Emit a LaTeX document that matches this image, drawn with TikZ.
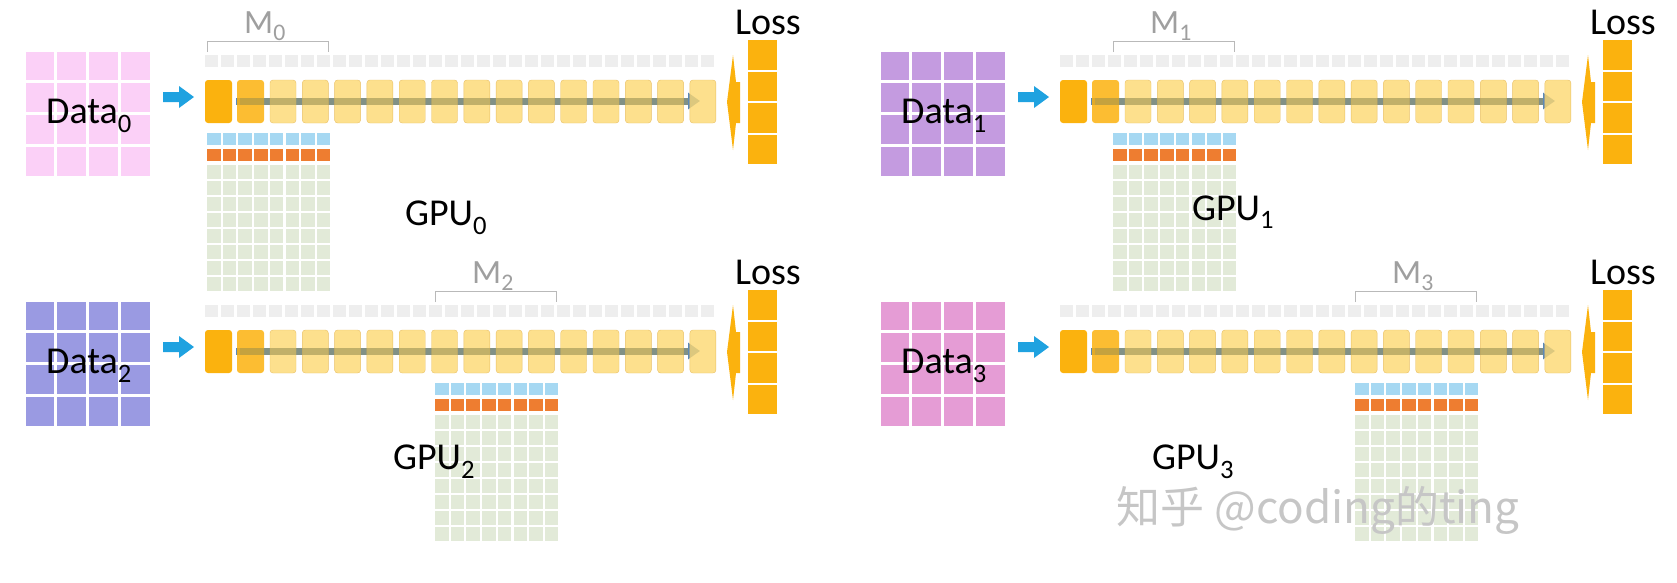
\documentclass[tikz,border=0pt]{standalone}
\usepackage{fontspec}
\setmainfont{Carlito}
\newfontfamily\cjk{Noto Sans CJK SC}
\usetikzlibrary{arrows.meta}
\definecolor{orD}{HTML}{FBB20E}
\definecolor{orL}{HTML}{FDD870}
\definecolor{orLd}{HTML}{E9C066}
\definecolor{gsq}{HTML}{EEEEEE}
\definecolor{gblue}{HTML}{A6D8F2}
\definecolor{gor}{HTML}{EE7D30}
\definecolor{ggr}{HTML}{E2EAD8}
\definecolor{abl}{HTML}{1FA2E0}
\definecolor{lbl}{HTML}{5A88B8}
\definecolor{olv}{HTML}{A89A55}
\definecolor{dpink}{HTML}{FBD0F7}
\definecolor{dpurple}{HTML}{C49BE0}
\definecolor{dblue}{HTML}{9A9AE2}
\definecolor{dmag}{HTML}{E59CD5}
\tikzset{lbltext/.style={font=\fontsize{38}{40}\selectfont, inner sep=0pt},
 mtext/.style={font=\fontsize{34}{36}\selectfont, text=gray!75, inner sep=0pt}}
\newcommand\mypanel[8]{%
\begin{scope}[shift={(#1,#2)}]
 \foreach \i in {0,...,3}{\foreach \j in {0,...,3}{\fill[#3] (24+\i*31.75+1.5,50+\j*31.75+1.5) rectangle ++(28.75,28.75);}}
 \node[lbltext] (data#4) at (89,116) {Data\textsubscript{#4}};
 \fill[abl] (163,92)--(179,92)--(179,86)--(194,97)--(179,108)--(179,102)--(163,102)--cycle;
 \foreach \k in {0,...,31}{\fill[gsq] (205+\k*16,55) rectangle ++(13,12);}
 \draw[lbl, line width=7pt, -{Triangle[length=12pt,width=16pt]}] (236,101)--(700,101);
 \fill[orD, rounded corners=3pt] (205,80) rectangle (232,123);
 \fill[orD, rounded corners=3pt, fill opacity=0.85] (237,80) rectangle (264,123);
 \foreach \k in {0,...,13}{\filldraw[fill=orL, draw=orLd, rounded corners=3pt, fill opacity=0.8] (270+\k*32.3,80) rectangle ++(26,43);}
 \draw[olv, opacity=0.5, line width=7pt] (240,101)--(688,101);
 \foreach \k in {0,...,3}{\fill[orD] (748,40+\k*31.5) rectangle ++(29,29.5);}
 \fill[orD] (733,55)--(736,82)--(740,82)--(740,123)--(736,123)--(733,150)--(727,102)--cycle;
 \node[lbltext] (loss#4) at (768,22) {Loss};
 \draw[gray!55, line width=1pt] (#5,52)--(#5,41)--(#5+121,41)--(#5+121,52);
 \node[mtext] (m#4) at (#5+58,26) {M\textsubscript{#4}};
 \foreach \c in {0,...,7}{
   \fill[gblue] (#5+\c*15.7,133) rectangle ++(13.5,12);
   \fill[gor] (#5+\c*15.7,149) rectangle ++(13.5,12);
   \foreach \r in {0,...,7}{\fill[ggr] (#5+\c*15.7,165+\r*16) rectangle ++(13.5,13.5);}
 }
 \node[lbltext] (gpu#4) at (#6,#7) {GPU\textsubscript{#4}};
\end{scope}}
\begin{document}
\begin{tikzpicture}[x=1pt,y=-1pt]
\useasboundingbox (0,0) rectangle (1677,582);
\mypanel{0}{0}{dpink}{0}{207}{446}{218}{}
\mypanel{855}{0}{dpurple}{1}{258}{378}{212}{}
\mypanel{0}{250}{dblue}{2}{435}{434}{212}{}
\mypanel{855}{250}{dmag}{3}{500}{338}{212}{}
\node[font=\cjk\fontsize{44}{48}\selectfont, text=gray!45, inner sep=0pt] (wm) at (1318,510) {知乎 @coding的ting};
\end{tikzpicture}
\end{document}
